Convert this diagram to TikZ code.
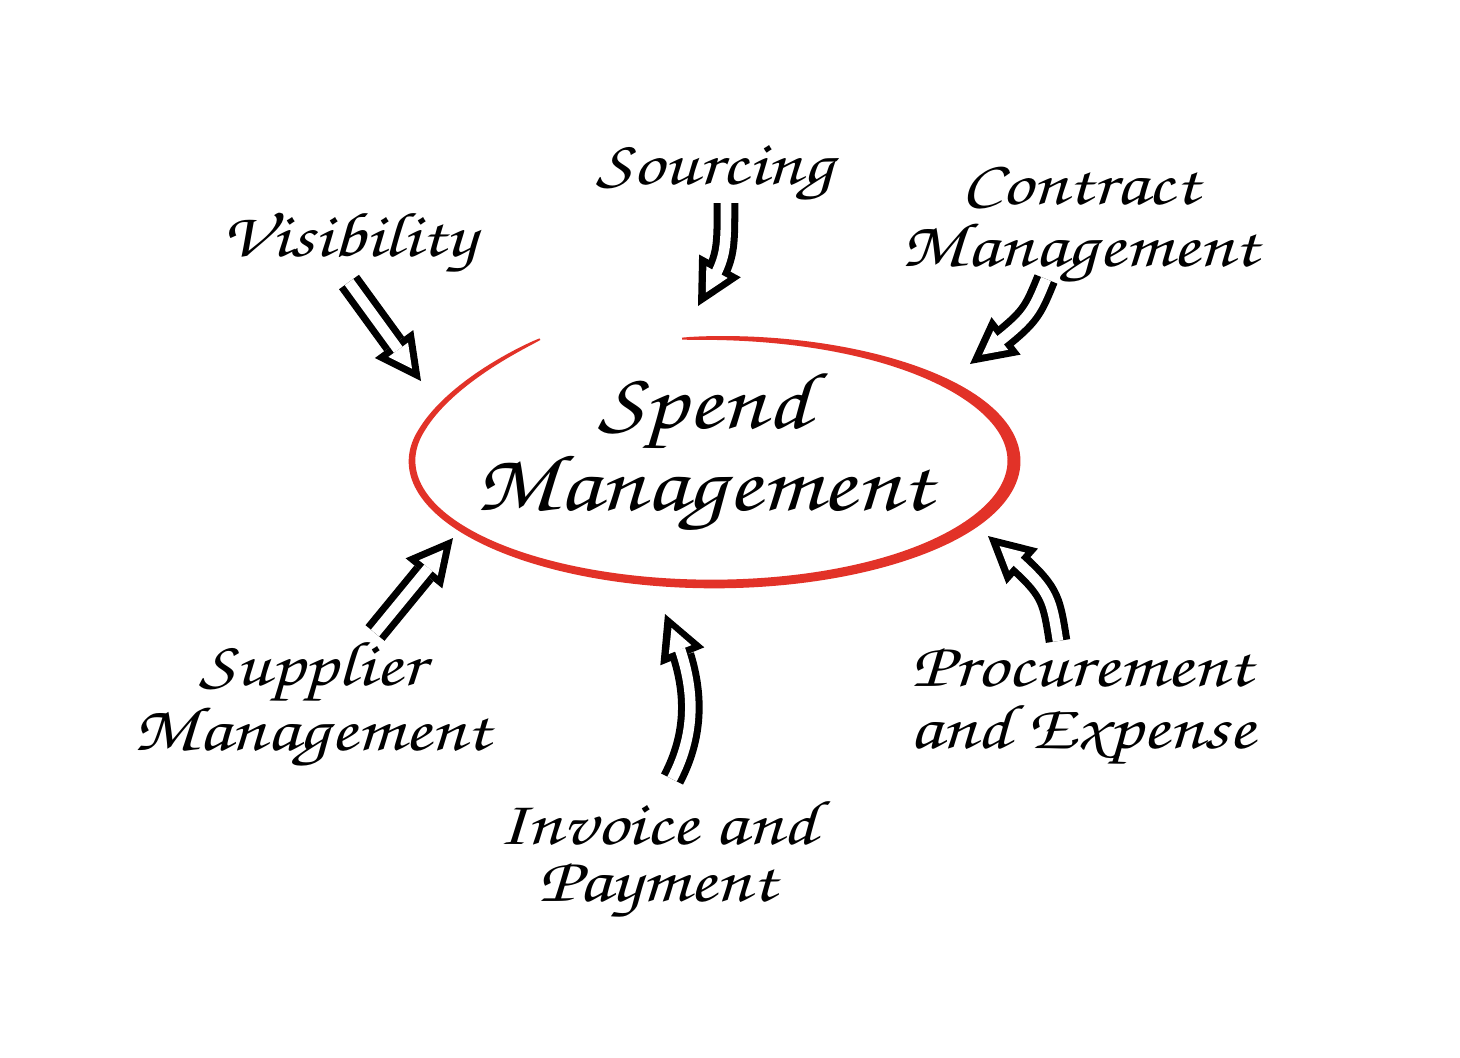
\documentclass[tikz,border=0pt]{standalone}
\usepackage[T1]{fontenc}
\usepackage{graphicx}
\usetikzlibrary{arrows.meta,bending}
\definecolor{markred}{RGB}{226,50,40}
\newcommand\handtext[1]{\scalebox{1.22}[1]{\begin{tabular}{@{}c@{}}#1\end{tabular}}}
\begin{document}
\begin{tikzpicture}[x=0.01cm,y=-0.01cm,
    declare function={hw(\t)=0.6+3.6*(abs(sin(0.5438*(96-\t)))+0.001)^0.4+2.6/(1+(\t/45)*(\t/45)*(\t/45)*(\t/45));
      ey(\t)=max(0,-195-\t)*0.65;},
    word/.style={inner sep=0pt,font=\fontfamily{pzc}\fontsize{18}{16.2}\selectfont},
    bigword/.style={inner sep=0pt,font=\fontfamily{pzc}\fontsize{23}{19}\selectfont},
    hollow/.style={line width=7pt,-{Triangle[length=13pt,width=13.5pt,line width=0pt]},
      postaction={draw=white,line width=3pt,shorten >=4.35pt,
        -{Triangle[length=6.65pt,width=6.9pt,line width=0pt]}}}]
    \fill[white] (0,0) rectangle (1460,1057);
    \useasboundingbox (0,0) rectangle (1460,1057);
    % ring
    \fill[markred] plot[domain=95.9:-234.9,samples=220]
      ({713+(301+hw(\x))*cos(\x)},{461-(123+ey(\x)+hw(\x))*sin(\x)})
      -- plot[domain=-234.9:95.9,samples=220]
      ({713+(301-hw(\x))*cos(\x)},{461-(123+ey(\x)-hw(\x))*sin(\x)}) -- cycle;
    \node[bigword] (spend) at (704,453) {\handtext{Spend\\Management}};
    \node[word] (sourcing) at (715,174) {\handtext{Sourcing}};
    \node[word] (visibility) at (349,244) {\handtext{Visibility}};
    \node[word] (contract) at (1080,225) {\handtext{Contract\\Management}};
    \node[word] (supplier) at (312,705) {\handtext{Supplier\\Management}};
    \node[word] (invoice) at (657,860) {\handtext{Invoice and\\Payment}};
    \node[word] (procure) at (1082,707) {\handtext{Procurement\\and Expense}};
    % arrows
    \coordinate (visT) at (349,282);  \coordinate (visH) at (421,381);
    \coordinate (srcT) at (726,203);  \coordinate (srcH) at (698,306);
    \coordinate (conT) at (1046,279); \coordinate (conH) at (970,364);
    \coordinate (supT) at (375,633);  \coordinate (supH) at (453,538);
    \coordinate (invT) at (672,779);  \coordinate (invH) at (665,614);
    \coordinate (proT) at (1058,641); \coordinate (proH) at (988,536);
    \draw[hollow] (visT) -- (visH);
    \draw[hollow] (srcT) .. controls (726,258) .. (srcH);
    \draw[hollow] (conT) .. controls (1030,318) .. (conH);
    \draw[hollow] (supT) -- (supH);
    \draw[hollow] (invT) .. controls (702,722) and (692,668) .. (invH);
    \draw[hollow] (proT) .. controls (1050,590) .. (proH);
\end{tikzpicture}
\end{document}
